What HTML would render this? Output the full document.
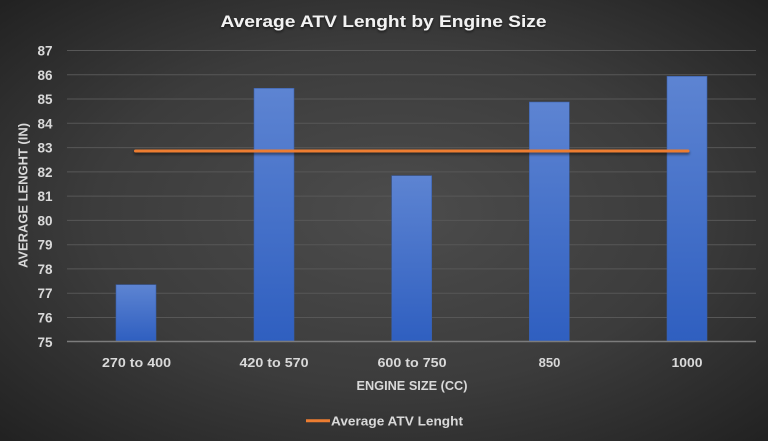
<!DOCTYPE html>
<html><head><meta charset="utf-8"><style>
html,body{margin:0;padding:0;width:768px;height:441px;overflow:hidden;background:#2a2a2a;}
svg{display:block;}
text{font-family:"Liberation Sans",sans-serif;}
</style></head><body>
<svg width="768" height="441" viewBox="0 0 768 441" xmlns="http://www.w3.org/2000/svg">
<defs>
<radialGradient id="bg" cx="50%" cy="50%" r="70%" fx="52%" fy="48%">
<stop offset="0" stop-color="#4c4c4c"/>
<stop offset="0.55" stop-color="#3c3c3c"/>
<stop offset="1" stop-color="#222222"/>
</radialGradient>
<linearGradient id="bar" x1="0" y1="0" x2="0" y2="1">
<stop offset="0" stop-color="#5d84d2"/>
<stop offset="1" stop-color="#2f5fc0"/>
</linearGradient>
<filter id="sh" filterUnits="userSpaceOnUse" x="0" y="0" width="768" height="441">
<feDropShadow dx="0" dy="1.5" stdDeviation="1.2" flood-color="#000" flood-opacity="0.6"/>
</filter>
<filter id="bl" filterUnits="userSpaceOnUse" x="0" y="0" width="768" height="441">
<feGaussianBlur stdDeviation="1.2"/>
</filter>
</defs>
<rect width="768" height="441" fill="url(#bg)"/>
<g stroke="#575757" stroke-width="1">
<line x1="67" x2="756" y1="50.5" y2="50.5"/>
<line x1="67" x2="756" y1="74.8" y2="74.8"/>
<line x1="67" x2="756" y1="99.0" y2="99.0"/>
<line x1="67" x2="756" y1="123.3" y2="123.3"/>
<line x1="67" x2="756" y1="147.6" y2="147.6"/>
<line x1="67" x2="756" y1="171.9" y2="171.9"/>
<line x1="67" x2="756" y1="196.1" y2="196.1"/>
<line x1="67" x2="756" y1="220.4" y2="220.4"/>
<line x1="67" x2="756" y1="244.7" y2="244.7"/>
<line x1="67" x2="756" y1="268.9" y2="268.9"/>
<line x1="67" x2="756" y1="293.2" y2="293.2"/>
<line x1="67" x2="756" y1="317.5" y2="317.5"/>
</g>
<g fill="url(#bar)" stroke="#3a5fa8" stroke-width="0.6">
<rect x="116" y="284.7" width="40" height="56.6"/>
<rect x="254" y="88.3" width="40" height="253"/>
<rect x="391.7" y="175.7" width="40" height="165.6"/>
<rect x="529.3" y="102" width="40" height="239.3"/>
<rect x="667" y="76.3" width="40" height="265"/>
</g>
<line x1="67" x2="756" y1="341.5" y2="341.5" stroke="#7c7c7c" stroke-width="1.5"/>
<line x1="135.5" x2="688" y1="153" y2="153" stroke="#000" stroke-opacity="0.45" stroke-width="3.5" stroke-linecap="round" filter="url(#bl)"/>
<line x1="135.5" x2="688" y1="151" y2="151" stroke="#ed7d31" stroke-width="3" stroke-linecap="round"/>
<g fill="#d9d9d9" font-size="13.5" font-weight="bold" text-anchor="end">
<text x="52.5" y="55.5">87</text>
<text x="52.5" y="79.8">86</text>
<text x="52.5" y="104">85</text>
<text x="52.5" y="128.3">84</text>
<text x="52.5" y="152.6">83</text>
<text x="52.5" y="176.9">82</text>
<text x="52.5" y="201.1">81</text>
<text x="52.5" y="225.4">80</text>
<text x="52.5" y="249.7">79</text>
<text x="52.5" y="273.9">78</text>
<text x="52.5" y="298.2">77</text>
<text x="52.5" y="322.5">76</text>
<text x="52.5" y="346.8">75</text>
</g>
<g fill="#d9d9d9" font-size="13" font-weight="bold" text-anchor="middle">
<text x="136.5" y="367" textLength="69" lengthAdjust="spacingAndGlyphs">270 to 400</text>
<text x="274" y="367" textLength="69" lengthAdjust="spacingAndGlyphs">420 to 570</text>
<text x="412" y="367" textLength="69" lengthAdjust="spacingAndGlyphs">600 to 750</text>
<text x="549.5" y="367">850</text>
<text x="687" y="367" textLength="31" lengthAdjust="spacingAndGlyphs">1000</text>
<text x="412" y="390" textLength="111" lengthAdjust="spacingAndGlyphs">ENGINE SIZE (CC)</text>
</g>
<text transform="translate(27.5,195.5) rotate(-90)" fill="#d9d9d9" font-size="12.5" font-weight="bold" text-anchor="middle" textLength="145" lengthAdjust="spacingAndGlyphs">AVERAGE LENGHT (IN)</text>
<text x="383.5" y="27" fill="#f2f2f2" font-size="17" font-weight="bold" text-anchor="middle" textLength="326" lengthAdjust="spacingAndGlyphs" filter="url(#sh)">Average ATV Lenght by Engine Size</text>
<line x1="306" x2="330" y1="420.7" y2="420.7" stroke="#ed7d31" stroke-width="3"/>
<text x="331" y="425.5" fill="#d9d9d9" font-size="13" font-weight="bold" textLength="132" lengthAdjust="spacingAndGlyphs">Average ATV Lenght</text>
</svg>
</body></html>
